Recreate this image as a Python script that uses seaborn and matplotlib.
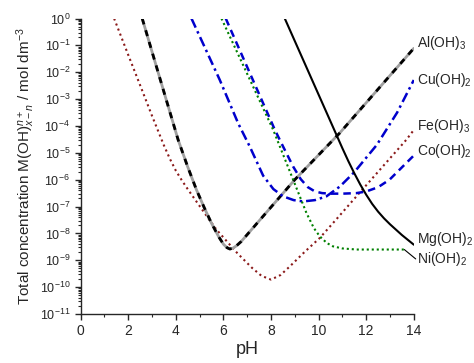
import numpy as np
import pandas as pd
import matplotlib
matplotlib.use("Agg")
import matplotlib.pyplot as plt
import seaborn as sns
from matplotlib.ticker import MultipleLocator, LogLocator

# ---- data (pH, log10 concentration) ----
fe_ph = [1.41, 2.00, 2.50, 3.00, 3.50, 3.75, 4.00, 4.25, 4.50, 5.00, 5.70, 6.60, 7.20, 7.60, 8.00, 8.40, 8.79, 9.40, 10.05, 10.80, 11.59, 13.68, 14.0]
fe_lg = [0.0, -1.35, -2.48, -3.62, -4.72, -5.22, -5.66, -6.02, -6.35, -6.98, -7.85, -8.75, -9.28, -9.58, -9.72, -9.55, -9.23, -8.70, -8.17, -7.42, -6.62, -4.52, -4.15]

al_ph = [2.59, 3.30, 4.10, 4.50, 4.87, 5.20, 5.50, 5.80, 6.00, 6.15, 6.27, 6.40, 6.55, 6.75, 9.00, 10.88, 14.0]
al_lg = [0.0, -2.13, -4.52, -5.52, -6.38, -7.05, -7.62, -8.12, -8.40, -8.53, -8.58, -8.55, -8.46, -8.30, -6.00, -4.27, -1.11]

cu_ph = [4.66, 5.85, 6.62, 7.11, 7.67, 8.10, 8.51, 8.95, 9.35, 9.85, 10.33, 10.90, 11.50, 12.45, 13.30, 14.0]
cu_lg = [0.0, -2.29, -3.90, -4.77, -5.85, -6.35, -6.62, -6.76, -6.81, -6.76, -6.62, -6.25, -5.72, -4.70, -3.50, -2.29]

co_ph = [6.10, 8.16, 8.51, 8.93, 9.25, 9.55, 9.85, 10.15, 10.50, 11.00, 11.59, 12.00, 12.50, 12.98, 14.0]
co_lg = [0.0, -4.14, -4.77, -5.51, -5.98, -6.28, -6.44, -6.50, -6.52, -6.52, -6.50, -6.44, -6.28, -6.00, -5.10]

ni_ph = [5.92, 8.09, 8.93, 9.49, 9.80, 10.05, 10.35, 10.60, 11.00, 11.60, 13.60]
ni_lg = [0.0, -4.14, -6.00, -7.24, -7.80, -8.11, -8.36, -8.48, -8.56, -8.60, -8.60]

mg_ph = [8.58, 10.75, 11.00, 11.25, 11.50, 11.75, 12.00, 12.25, 12.50, 12.75, 13.00, 13.50, 14.0]
mg_lg = [0.0, -4.33, -4.83, -5.31, -5.76, -6.18, -6.56, -6.90, -7.19, -7.44, -7.66, -8.06, -8.42]

labels = ["Al(OH)$_3$", "Cu(OH)$_2$", "Fe(OH)$_3$", "Co(OH)$_2$", "Mg(OH)$_2$", "Ni(OH)$_2$"]
label_lg = [-0.92, -2.29, -4.02, -4.95, -8.2, -8.95]

xticks = [0, 2, 4, 6, 8, 10, 12, 14]

# ---- style ----
sns.set_style("ticks")
plt.rcParams["font.family"] = ["Liberation Sans", "DejaVu Sans"]
plt.rcParams["mathtext.fontset"] = "custom"
plt.rcParams["mathtext.rm"] = "Liberation Sans"
plt.rcParams["mathtext.it"] = "Liberation Sans:italic"
plt.rcParams["mathtext.default"] = "regular"

fig = plt.figure(figsize=(4.74, 3.63), dpi=100)
ax = fig.add_axes([0.170, 0.135, 0.703, 0.814])


def curve(ph, lg, **kw):
    df = pd.DataFrame({"pH": ph, "c": 10.0 ** np.asarray(lg)})
    sns.lineplot(data=df, x="pH", y="c", ax=ax, estimator=None, sort=False, **kw)


curve(fe_ph, fe_lg, color="#8b1a1a", lw=1.5, linestyle=(0, (1, 1.6)))
curve(al_ph, al_lg, color="#a0a0a0", lw=2.0, linestyle="-")
curve(al_ph, al_lg, color="black", lw=2.0, linestyle=(0, (2.2, 2.2)))
curve(cu_ph, cu_lg, color="#0000cc", lw=1.8, linestyle=(0, (4, 1.6, 1, 1.6)))
curve(co_ph, co_lg, color="#0000cc", lw=1.8, linestyle=(0, (3, 2)))
curve(ni_ph, ni_lg, color="#008000", lw=1.5, linestyle=(0, (1, 1.4)))
curve(mg_ph, mg_lg, color="black", lw=1.5, linestyle="-")

ax.set_yscale("log")
ax.set_xlim(0, 14)
ax.set_ylim(1e-11, 1)
ax.set_xticks(xticks)
ax.xaxis.set_minor_locator(MultipleLocator(1))
ax.yaxis.set_major_locator(LogLocator(base=10, numticks=20))
ax.yaxis.set_minor_locator(LogLocator(base=10, subs=np.arange(2, 10), numticks=20))
ax.tick_params(axis="both", which="major", direction="out", length=4, width=1, labelsize=10)
ax.tick_params(axis="both", which="minor", direction="out", length=2, width=0.8)
ax.tick_params(axis="y", labelsize=9)
sns.despine(ax=ax)
for s in ["left", "bottom"]:
    ax.spines[s].set_linewidth(1.0)

ax.set_xlabel("pH", fontsize=13, labelpad=2)
ax.set_ylabel("Total concentration M(OH)$_{\\it{x-n}}^{\\it{n+}}$ / mol dm$^{-3}$", fontsize=11, labelpad=2)

for lab, lg in zip(labels, label_lg):
    ax.text(14.15, 10.0 ** lg, lab, fontsize=10, va="center", ha="left", clip_on=False)

# leader line from Ni(OH)2 curve end to its label
ax.plot([ni_ph[-1], 14.08], [10.0 ** ni_lg[-1], 10.0 ** -8.95], color="black", lw=0.8, clip_on=False)

fig.savefig("out.png", dpi=100)
